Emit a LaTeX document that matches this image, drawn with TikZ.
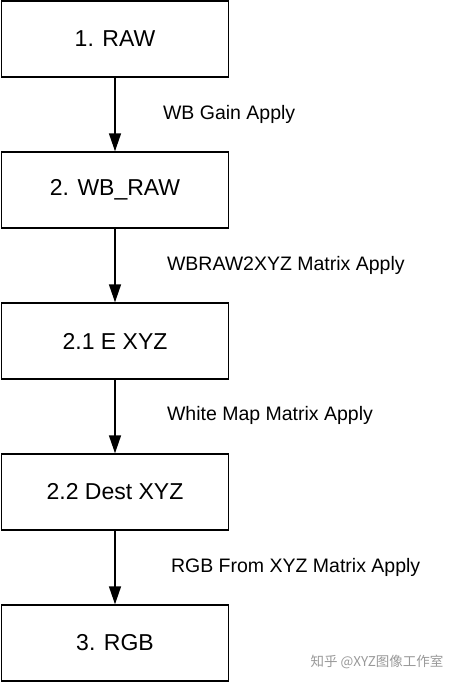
\documentclass[tikz,border=0pt]{standalone}
\usepackage{fontspec}
\setmainfont{Liberation Sans}
\newfontfamily\cjk{Noto Sans CJK SC}
\usetikzlibrary{positioning,arrows.meta}

\begin{document}
\begin{tikzpicture}[
		x=1pt,y=1pt,
		node distance=73.6pt and 0pt,
		mybox/.style={draw,line width=1.4pt,minimum width=227pt,minimum height=76pt,font=\fontsize{23}{26}\selectfont},
		myarrow/.style={line width=1.4pt,-{Triangle[width=12pt,length=18pt]}},
		mylabel/.style={anchor=west,xshift=44pt,font=\fontsize{19.5}{22}\selectfont}
		]
		\useasboundingbox (0,0) rectangle (454,-682);
		\node[mybox] (raw) at (115,-39) {1. RAW};
		\node[mybox,below=of raw] (wbraw) {2. WB\_RAW};
		\node[mybox,below=of wbraw] (exyz) {2.1 E XYZ};
		\node[mybox,below=of exyz] (dxyz) {2.2 Dest XYZ};
		\node[mybox,below=of dxyz] (rgb) {3. RGB};
		\path 
		(raw) edge[myarrow] node[mylabel] {WB Gain Apply} (wbraw)
		(wbraw) edge[myarrow] node[mylabel,xshift=4pt] {WBRAW2XYZ Matrix Apply} (exyz)
		(exyz) edge[myarrow] node[mylabel,xshift=4pt,yshift=1pt] {White Map Matrix Apply} (dxyz)
		(dxyz) edge[myarrow] node[mylabel,xshift=8pt] {RGB From XYZ Matrix Apply} (rgb);
		\node[anchor=east,text=black!40,font=\cjk\fontsize{13.5}{16}\selectfont] (mark) at (447,-662) {知乎 @XYZ图像工作室};
	\end{tikzpicture}
\end{document}
